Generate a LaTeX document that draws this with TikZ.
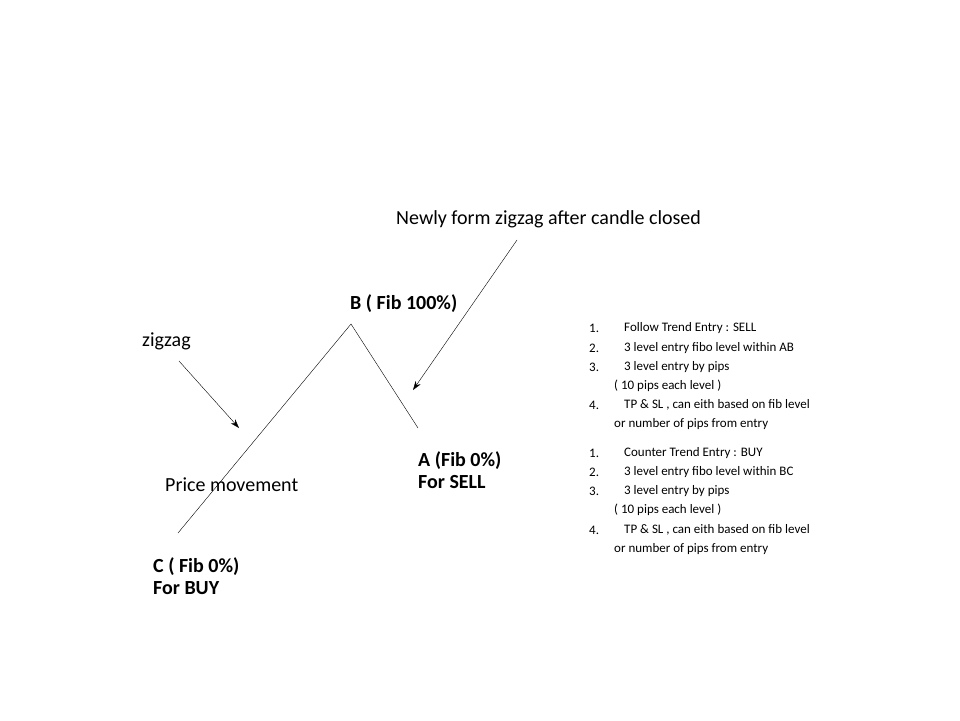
\documentclass[tikz,border=0pt]{standalone}
\usepackage{fontspec}
\setmainfont{Carlito}
\usetikzlibrary{arrows.meta}
\tikzset{
    big label/.style={anchor=west,inner sep=0pt,font=\fontsize{20}{22}\selectfont},
    point label/.style={anchor=west,inner sep=0pt,font=\fontsize{20}{22}\selectfont\bfseries,align=left},
    list item/.style={anchor=west,inner sep=0pt,font=\fontsize{13}{15}\selectfont},
    pointer/.style={-{Stealth[length=9pt,width=6pt]},thin},
}
\begin{document}
\begin{tikzpicture}[x=1pt,y=-1pt]
		\useasboundingbox (0,0) rectangle (960,720);
		% price swing
		\coordinate (C) at (178,533);
		\coordinate (B) at (351,324);
		\coordinate (A) at (418,428);
		\draw (C) -- (B) -- (A);
		\node[point label] (Blab) at (350,304) {B ( Fib 100\%)};
		\node[point label] (Alab) at (418,470) {A (Fib 0\%)\\For SELL};
		\node[point label] (Clab) at (153,576) {C ( Fib 0\%)\\For BUY};
		\node[big label] (zz) at (142,341) {zigzag};
		\node[big label] (pm) at (165,485) {Price movement};
		\node[big label] (nf) at (396,219) {Newly form zigzag after candle closed};
		\coordinate (zzend) at (239,428);
		\coordinate (nfend) at (413,390);
		\draw[pointer] (179,361) -- (zzend);
		\draw[pointer] (517,240) -- (nfend);
		% entry rules
		\foreach \y/\n/\t in {328/1./Follow Trend Entry : SELL,348/2./3 level entry fibo level within AB,367/3./3 level entry by pips,405/4./{TP \& SL , can eith based on fib level},
		                      453/1./Counter Trend Entry : BUY,472/2./3 level entry fibo level within BC,491/3./3 level entry by pips,530/4./{TP \& SL , can eith based on fib level}}{
			\node[list item] at (589,\y) {\n};
			\node[list item] at (624,\y) {\t};
		}
		\foreach \y/\t in {386/( 10 pips each level ),424/or number of pips from entry,510/( 10 pips each level ),549/or number of pips from entry}
		\node[list item] at (614,\y) {\t};
	\end{tikzpicture}
\end{document}
